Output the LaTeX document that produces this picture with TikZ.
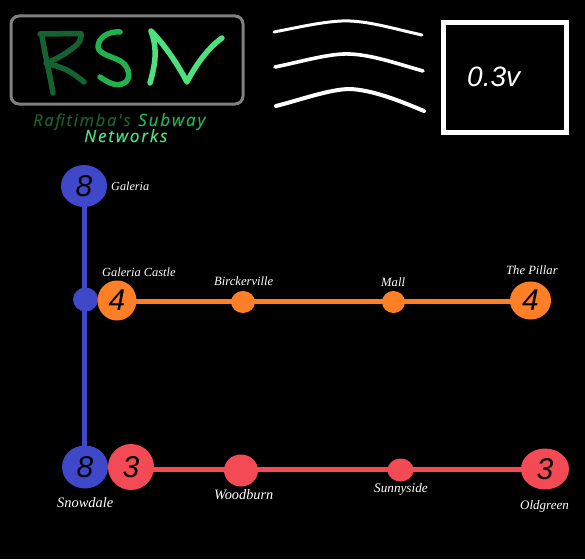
\documentclass[tikz,border=0pt]{standalone}
\usepackage{fontspec}
\setmainfont{Liberation Serif}
\newfontfamily\digitfont{Liberation Sans}
\newfontfamily\logofont[LetterSpace=11,FakeBold=0.3]{Open Sans}
\usetikzlibrary{shapes.geometric,backgrounds}
\definecolor{bluel}{HTML}{3E48C8}
\definecolor{orangel}{HTML}{FF7F27}
\definecolor{redl}{HTML}{F34A55}
\definecolor{gdark}{HTML}{14622F}
\definecolor{gmid}{HTML}{22B14C}
\definecolor{glight}{HTML}{4CE07E}
\tikzset{
  x=1pt,y=-1pt,
  stn/.style n args={3}{shape=ellipse,fill=#1,inner sep=0pt,minimum width=#2*2pt,minimum height=#3*2pt,
     text=black,font=\digitfont\itshape\fontsize{30}{30}\selectfont},
  lbl/.style={text=white,inner sep=0pt,anchor=base west,font=\itshape\fontsize{#1}{13}\selectfont},
  lbl/.default=12.2,
  metro/.style={line width=5pt},
  pen/.style={line width=5.5pt,line cap=round,line join=round},
  wave/.style={white,line width=3.6pt,line cap=round,line join=round},
  tag/.style={inner sep=0pt,anchor=base west,font=\logofont\itshape\fontsize{#1}{16}\selectfont},
  tag/.default=17,
}
\begin{document}
\begin{tikzpicture}
\useasboundingbox (0,0) rectangle (585,559);

% logo
\node[draw={rgb,255:red,128;green,128;blue,128},line width=3pt,rounded corners=8pt,minimum width=232pt,minimum height=88pt,inner sep=0pt] (logo) at (127,60) {};
\draw[pen,gdark] (40,34) -- (81,33.5) .. controls (82,42) and (76,46) .. (66,53) .. controls (58,58) and (52,61) .. (46,63);
\draw[pen,gdark] (42,36) .. controls (45,55) and (50,75) .. (53,93);
\draw[pen,gdark] (47,64) .. controls (62,66) and (72,72) .. (84,82);
\draw[pen,gmid] (120,32) .. controls (108,31) and (98,38) .. (98,47) .. controls (99,55) and (115,57) .. (122,62) .. controls (130,68) and (131,80) .. (124,83) .. controls (116,88) and (106,81) .. (100,77);
\draw[pen,glight] (150,83) .. controls (155,65) and (158,50) .. (151,31) .. controls (165,45) and (178,65) .. (187,82) .. controls (192,72) and (205,50) .. (222,38);
\node[tag=16.4,text=gdark] (t1) at (33,126) {Rafitimba's};
\node[tag,text=gmid] (t2) at (138,126) {Subway};
\node[tag,text=glight] (t3) at (84,142) {Networks};

% waves
\draw[wave,line width=3pt] (274,32) .. controls (300,27) and (330,20) .. (350,21) .. controls (372,22) and (395,29) .. (422,35);
\draw[wave] (275,67) .. controls (300,62) and (330,53) .. (350,54) .. controls (372,55) and (395,63) .. (423,71);
\draw[wave,line width=4pt] (276,106) .. controls (300,100) and (330,89) .. (350,89) .. controls (372,90) and (398,100) .. (424,111);

% box
\node[draw=white,line width=4.7pt,minimum width=123.5pt,minimum height=110pt,inner sep=0pt] (box) at (505,77.5) {};
\node[text=white,inner sep=0pt,anchor=base west,font=\digitfont\itshape\fontsize{28}{28}\selectfont] (volt) at (467,87) {0.3v};

% stations
\node[stn={bluel}{23}{21}] (galeria) at (84,186) {8};
\node[stn={bluel}{12.5}{12}] (castle) at (85.5,299.5) {};
\node[stn={bluel}{23}{21.5}] (snow) at (85,467) {8};
\node[stn={orangel}{19.5}{20}] (o4) at (117,300.5) {4};
\node[stn={orangel}{12}{11}] (birck) at (243,302) {};
\node[stn={orangel}{11.5}{11}] (mall) at (393.5,302) {};
\node[stn={orangel}{20.5}{19}] (pillar) at (530.5,300.5) {4};
\node[stn={redl}{23}{23}] (r3) at (131,467) {3};
\node[stn={redl}{17}{16}] (wood) at (241,470.5) {};
\node[stn={redl}{13}{11.5}] (sunny) at (400.5,470) {};
\node[stn={redl}{24}{20.5}] (old) at (545,469) {3};

% lines
\begin{scope}[on background layer]
\fill[black] (0,0) rectangle (585,559);
\draw[metro,bluel] ([xshift=.5pt]galeria.center) -- ([xshift=-.5pt]snow.center);
\draw[metro,orangel] ([yshift=-1pt]o4.center) -- ([yshift=.5pt]birck.center) -- ([yshift=.5pt]mall.center) -- ([yshift=-1pt]pillar.center);
\draw[metro,redl] ([yshift=-2.3pt]r3.center) -- ([yshift=1.2pt]wood.center) -- ([yshift=.7pt]sunny.center) -- ([yshift=-.3pt]old.center);
\end{scope}

% labels
\node[lbl] (lgaleria) at (111,190) {Galeria};
\node[lbl=12.4] (lcastle) at (102,276.5) {Galeria Castle};
\node[lbl=12.6] (lbirck) at (214,285.5) {Birckerville};
\node[lbl=12.6] (lmall) at (381,286.5) {Mall};
\node[lbl=12.6] (lpillar) at (506,274.5) {The Pillar};
\node[lbl=14.4] (lsnow) at (57,507) {Snowdale};
\node[lbl=14.3] (lwood) at (214,499) {Woodburn};
\node[lbl=13.2] (lsunny) at (374,492.5) {Sunnyside};
\node[lbl=13] (lold) at (520,509.5) {Oldgreen};
\end{tikzpicture}
\end{document}
